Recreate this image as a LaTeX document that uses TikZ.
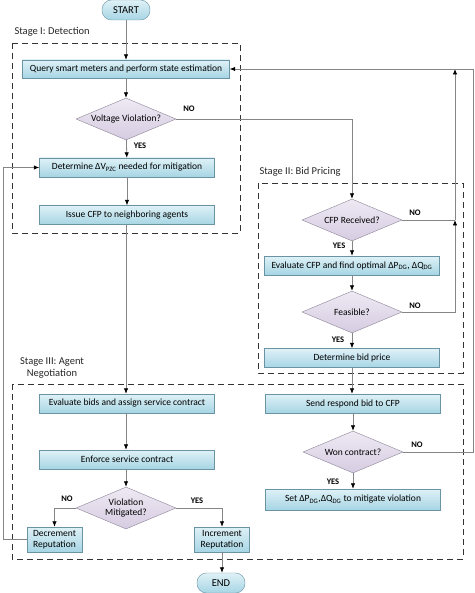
\documentclass[tikz,border=0pt]{standalone}
\usepackage{fontspec}
\setmainfont{Carlito}
\usetikzlibrary{positioning}
\usetikzlibrary{shapes.geometric}
\usetikzlibrary{arrows.meta}
\definecolor{boxtop}{HTML}{DFF1F7}
\definecolor{boxbot}{HTML}{A6D5E4}
\definecolor{boxline}{HTML}{6A93A3}
\definecolor{dmdtop}{HTML}{EEE9F3}
\definecolor{dmdbot}{HTML}{D6CCE2}
\definecolor{dmdline}{HTML}{8C8496}
\definecolor{flowline}{HTML}{858585}

\begin{document}
\begin{tikzpicture}[x=1pt, y=-1pt,
        font = \fontsize{9.5}{11}\selectfont,
        >={Latex[length=5.5pt,width=4.5pt,color=black]},
        task/.style = {shape = rectangle, draw = boxline, top color = boxtop, bottom color = boxbot, minimum width = 175pt, minimum height = 19pt, inner sep = 1pt},
        small/.style = {task, minimum width = 55pt, minimum height = 25pt, align = center, font = \fontsize{9.5}{10.5}\selectfont},
        test/.style = {shape = diamond, aspect = 2.4, draw = dmdline, top color = dmdtop, bottom color = dmdbot, minimum width = 100pt, minimum height = 42pt, inner sep = 0pt},
        term/.style = {shape = rectangle, rounded corners = 9.5pt, draw = boxline, top color = boxtop, bottom color = boxbot, minimum width = 48pt, minimum height = 20pt, font = \fontsize{10.5}{12}\selectfont},
        stage/.style = {draw = black!80, thick, dash pattern = on 6pt off 4pt},
        title/.style = {font = \fontsize{10.5}{12.5}\selectfont, text = black!85},
        answer/.style = {font = \fontsize{8.5}{10}\bfseries},
        flow/.style = {draw = flowline, line width = 0.8pt},
    ]
    \useasboundingbox (0,0) rectangle (474,593);

    % stage frames
    \draw[stage] (12,43) rectangle (240,233);
    \draw[stage] (258,183) rectangle (463,373);
    \draw[stage] (12,384) rectangle (463,559);
    \node[title, anchor = west] (lblA) at (11,32) {Stage I: Detection};
    \node[title, anchor = west] (lblB) at (256,172) {Stage II: Bid Pricing};
    \node[title, align = center] (lblC) at (52,368) {Stage III: Agent\\Negotiation};

    % stage I
    \node[term] (start) at (126,10) {START};
    \node[task, minimum width = 207pt, minimum height = 18pt] (query) at (126,69) {Query smart meters and perform state estimation};
    \node[test] (volt) at (126,119) {Voltage Violation?};
    \node[task] (detv) at (127,167.5) {Determine ΔV\textsubscript{PZC} needed for mitigation};
    \node[task] (issue) at (127,215) {Issue CFP to neighboring agents};

    % stage II
    \node[test] (cfp) at (352,220) {CFP Received?};
    \node[task] (evcfp) at (352,265.5) {Evaluate CFP and find optimal ΔP\textsubscript{DG}, ΔQ\textsubscript{DG}};
    \node[test] (feas) at (352,312) {Feasible?};
    \node[task] (bidp) at (352,358) {Determine bid price};

    % stage III
    \node[task] (evbid) at (127,403.5) {Evaluate bids and assign service contract};
    \node[task] (enforce) at (127,459.5) {Enforce service contract};
    \node[test, align = center, font = \fontsize{9.5}{10.5}\selectfont] (mitig) at (126,508) {Violation\\Mitigated?};
    \node[small] (decr) at (54.5,539.5) {Decrement\\Reputation};
    \node[small] (incr) at (222,539.5) {Increment\\Reputation};
    \node[term] (end) at (221,583) {END};
    \node[task] (send) at (353,403.5) {Send respond bid to CFP};
    \node[test] (won) at (353,452) {Won contract?};
    \node[task, minimum height = 21pt] (setdg) at (353,499.5) {Set ΔP\textsubscript{DG},ΔQ\textsubscript{DG} to mitigate violation};

    \coordinate (loopA) at (455,69);
    \coordinate (loopB) at (473,69);
    \coordinate (loopL) at (3,539.5);

    % connectors
    \path[flow, ->] (start) -- (query);
    \path[flow, ->] (query) -- (volt);
    \path[flow, ->] (volt) -- (detv);
    \path[flow, ->] (detv) -- (issue);
    \path[flow, ->] (issue.south -| volt) -- (evbid.north -| volt);
    \path[flow, ->] (volt.east) -| (cfp.north);
    \path[flow, ->] (cfp) -- (evcfp);
    \path[flow, ->] (evcfp) -- (feas);
    \path[flow, ->] (feas) -- (bidp);
    \path[flow, ->] (bidp) -- (send.north -| bidp);
    \path[flow, ->] (send) -- (won);
    \path[flow, ->] (won) -- (setdg);
    \path[flow, ->] (evbid.south -| volt) -- (enforce.north -| volt);
    \path[flow, ->] (enforce.south -| mitig) -- (mitig);
    \path[flow, ->] (mitig.west) -| (decr.north);
    \path[flow, ->] (mitig.east) -| (incr.north);
    \path[flow, ->] (incr) -- (end.north -| incr);
    \path[flow] (cfp.east) -- (cfp.east -| loopA);
    \path[flow, ->] (feas.east) -| (cfp.east -| loopA);
    \path[flow, ->] (cfp.east -| loopA) -- (loopA);
    \path[flow, ->] (won.east) -| (loopB) -- (query.east);
    \path[flow, ->] (decr.west) -- (loopL) |- (detv.west);

    % answers
    \node[answer] (n1) at (189,109) {NO};
    \node[answer] (y1) at (140,146) {YES};
    \node[answer] (n2) at (415,213) {NO};
    \node[answer] (y2) at (339,246) {YES};
    \node[answer] (n3) at (415,306) {NO};
    \node[answer] (y3) at (338,340) {YES};
    \node[answer] (n4) at (417,445) {NO};
    \node[answer] (y4) at (333,482) {YES};
    \node[answer] (n5) at (67,499) {NO};
    \node[answer] (y5) at (197,501) {YES};
\end{tikzpicture}
\end{document}
